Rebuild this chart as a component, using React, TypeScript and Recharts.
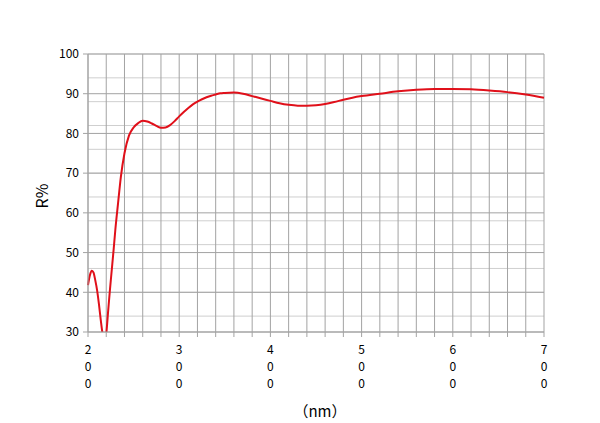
import React from 'react';
import {
  LineChart,
  Line,
  XAxis,
  YAxis,
  CartesianGrid,
} from 'recharts';

// wavelength (nm) and reflectance (R%)
const wavelengths = [
  200, 202, 204, 206, 208, 210, 212, 214, 216, 218, 220, 222, 224, 226, 228, 230,
  233, 236, 240, 245, 250, 255, 260, 265, 270, 275, 280, 285, 290, 295, 300,
  305, 310, 315, 320, 325, 330, 335, 340, 345, 350, 360, 370, 380, 390, 400, 410, 420, 430, 440, 450,
  460, 470, 480, 490, 500, 520, 540, 560, 580, 600, 620, 640, 660, 680, 700,
];
const reflectance = [
  41.8, 44.2, 45.4, 45.0, 43.0, 40.5, 37.0, 33.0, 29.5, 27.5, 29.5, 35.0, 40.5, 45.5, 50.5, 55.8,
  62.5, 69.0, 75.0, 79.5, 81.5, 82.6, 83.2, 83.0, 82.5, 81.9, 81.4, 81.5, 82.1, 83.1, 84.3,
  85.4, 86.4, 87.3, 88.0, 88.6, 89.1, 89.5, 89.8, 90.1, 90.2, 90.3, 90.0, 89.4, 88.8, 88.2, 87.6, 87.2, 87.0, 87.0, 87.1,
  87.4, 87.9, 88.5, 89.0, 89.4, 90.0, 90.6, 91.0, 91.2, 91.2, 91.1, 90.8, 90.4, 89.8, 89.0,
];

const yTicks = [30, 40, 50, 60, 70, 80, 90, 100];
const yMinor = [30, 32, 34, 36, 38, 40, 42, 44, 46, 48, 50, 52, 54, 56, 58, 60, 62, 64, 66, 68,
  70, 72, 74, 76, 78, 80, 82, 84, 86, 88, 90, 92, 94, 96, 98, 100];
const xTicks = [200, 220, 240, 260, 280, 300, 320, 340, 360, 380, 400, 420, 440, 460, 480,
  500, 520, 540, 560, 580, 600, 620, 640, 660, 680, 700];

const data = wavelengths.map((w, i) => ({ nm: w, r: reflectance[i] }));

const FONT = '"Noto Sans CJK SC", "DejaVu Sans", sans-serif';

const StackedTick = (props: any) => {
  const { x, y, payload } = props;
  if (payload.value % 100 !== 0) return null;
  const digits = String(payload.value).split('');
  return (
    <g>
      {digits.map((d, i) => (
        <text
          key={i}
          x={x}
          y={y + 15 + i * 17}
          textAnchor="middle"
          fontSize={12}
          fontFamily={FONT}
          fill="#000"
        >
          {d}
        </text>
      ))}
    </g>
  );
};

export default function App() {
  return (
    <div style={{ position: 'absolute', left: 0, top: 0, width: 600, height: 423, background: '#fff' }}>
      <LineChart
        width={600}
        height={423}
        data={data}
        margin={{ top: 54, right: 56, bottom: 0, left: 0 }}
      >
        <CartesianGrid
          horizontalValues={yMinor}
          vertical={false}
          stroke="#cfcfcf"
          strokeWidth={1}
        />
        <CartesianGrid
          horizontalValues={yTicks}
          verticalValues={xTicks}
          stroke="#a3a3a3"
          strokeWidth={1}
        />
        <XAxis
          dataKey="nm"
          type="number"
          domain={[200, 700]}
          ticks={xTicks}
          interval={0}
          height={91}
          tickSize={5}
          tickMargin={2}
          stroke="#a3a3a3"
          tick={<StackedTick />}
          label={{
            content: (p: any) => {
              const vb = p.viewBox;
              return (
                <text
                  x={vb.x + vb.width / 2 + 4}
                  y={vb.y + 85}
                  textAnchor="middle"
                  fontSize={15}
                  fontFamily={FONT}
                  fill="#000"
                >
                  （nm）
                </text>
              );
            },
          }}
        />
        <YAxis
          type="number"
          domain={[30, 100]}
          allowDataOverflow
          ticks={yTicks}
          width={88}
          tickSize={5}
          tickMargin={4}
          stroke="#a3a3a3"
          tick={{ fill: '#000', fontSize: 12, fontFamily: FONT }}
          label={{
            content: (p: any) => {
              const vb = p.viewBox;
              const cx = vb.x + 41;
              const cy = vb.y + vb.height / 2 + 3;
              return (
                <text
                  x={cx}
                  y={cy}
                  transform={`rotate(-90 ${cx} ${cy})`}
                  textAnchor="middle"
                  dominantBaseline="central"
                  fontSize={16}
                  fontFamily={FONT}
                  fill="#000"
                >
                  R%
                </text>
              );
            },
          }}
        />
        <Line
          type="monotone"
          dataKey="r"
          stroke="#e0101a"
          strokeWidth={2}
          dot={false}
          isAnimationActive={false}
        />
      </LineChart>
    </div>
  );
}
